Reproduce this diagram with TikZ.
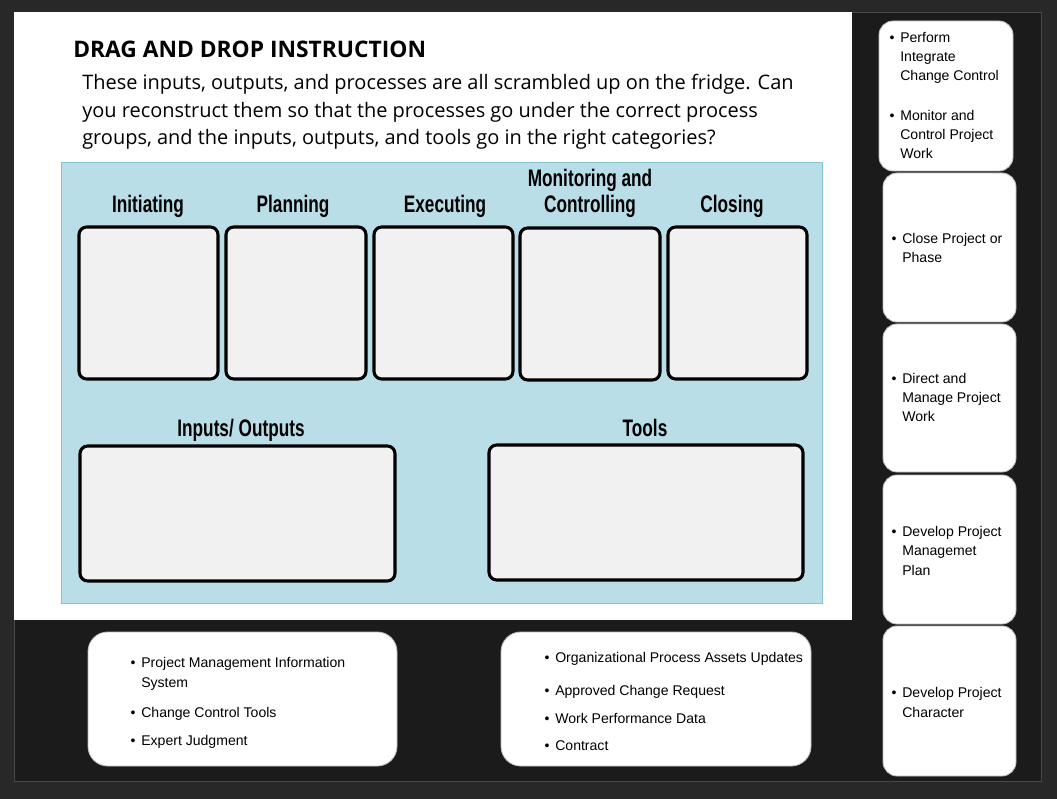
\documentclass[tikz,border=0pt]{standalone}
\usepackage{fontspec}
\setmainfont{Open Sans}
\newfontfamily\cardfont{Liberation Sans}
\newfontfamily\headfont[FakeStretch=0.72]{Liberation Sans}
\usetikzlibrary{fit,positioning}

\definecolor{outerbg}{HTML}{282828}
\definecolor{panelbg}{HTML}{1B1B1B}
\definecolor{panelline}{HTML}{4A4A4A}
\definecolor{fridge}{HTML}{B9DEE7}
\definecolor{fridgeline}{HTML}{86C3CF}
\definecolor{slotgray}{HTML}{F1F1F1}
\definecolor{cardline}{HTML}{BDBDBD}

\begin{document}
\begin{tikzpicture}[x=0.025cm, y=-0.025cm,
  slot/.style={draw=black, line width=2.2pt, rounded corners=5.5pt, fill=slotgray, inner sep=0pt},
  card/.style={draw=cardline, line width=0.6pt, rounded corners=10pt, fill=white, inner sep=0pt},
  head/.style={font=\headfont\bfseries\fontsize{17}{18.5}\selectfont, anchor=base, align=center, inner sep=0pt},
  item/.style={font=\cardfont\fontsize{10}{13.8}\selectfont, anchor=base west, align=left, inner sep=0pt}
]
  \useasboundingbox (0,0) rectangle (1057,799);
  \fill[outerbg] (0,0) rectangle (1057,799);
  \node[fit={(14,12) (1041,781)}, inner sep=0pt, fill=panelbg, draw=panelline, line width=0.6pt] (panel) {};
  \node[fit={(14,12) (852,620)}, inner sep=0pt, fill=white] (slide) {};

  \node[anchor=base west, inner sep=0pt, font=\bfseries\fontsize{16.2}{20}\selectfont] (title) at (73,58) {DRAG AND DROP INSTRUCTION};
  % multi-line nodes sit on the baseline of their last line
  \node[anchor=base west, inner sep=0pt, align=left, font=\fontsize{14.2}{19.56}\selectfont] (instr) at (82,145)
    {These inputs, outputs, and processes are all scrambled up on the fridge. Can\\
     you reconstruct them so that the processes go under the correct process\\
     groups, and the inputs, outputs, and tools go in the right categories?};

  \node[fit={(61,162) (822,603)}, inner sep=0pt, fill=fridge, draw=fridgeline, line width=0.6pt] (fridge) {};

  % process groups
  \node[slot, fit={(79,227) (218,379)}] (init) {};
  \node[slot, fit={(226,227) (366,379)}] (plan) {};
  \node[slot, fit={(374,227) (513,379)}] (exec) {};
  \node[slot, fit={(520,228) (660,380)}] (moni) {};
  \node[slot, fit={(668,227) (807,379)}] (clos) {};
  \node[head] (initlbl) at (148,213) {Initiating};
  \node[head] (planlbl) at (293,213) {Planning};
  \node[head] (execlbl) at (445,213) {Executing};
  \node[head] (monilbl) at (590,213) {Monitoring and\\Controlling};
  \node[head] (closlbl) at (732,213) {Closing};

  % categories
  \node[slot, fit={(80,446) (395,581)}] (io) {};
  \node[slot, fit={(489,445) (803,580)}] (tools) {};
  \node[head] (iolbl) at (241,436) {Inputs/ Outputs};
  \node[head] (toolslbl) at (645,436) {Tools};

  % loose magnets
  \node[card, rounded corners=14pt, fit={(88,632) (397,766)}] (cardtools) {};
  \node[item] (pmis) at (141,687) {\llap{\textbullet\hspace{4pt}}Project Management Information\\System};
  \node[item] (cct) at (141,717) {\llap{\textbullet\hspace{4pt}}Change Control Tools};
  \node[item] (expj) at (141,745) {\llap{\textbullet\hspace{4pt}}Expert Judgment};

  \node[card, rounded corners=14pt, fit={(501,632) (811,766)}] (cardio) {};
  \node[item] (opau) at (555,662) {\llap{\textbullet\hspace{4pt}}Organizational Process Assets Updates};
  \node[item] (acr) at (555,695) {\llap{\textbullet\hspace{4pt}}Approved Change Request};
  \node[item] (wpd) at (555,723) {\llap{\textbullet\hspace{4pt}}Work Performance Data};
  \node[item] (contr) at (555,750) {\llap{\textbullet\hspace{4pt}}Contract};

  \node[card, fit={(879,21) (1013,171)}] (carda) {};
  \node[item] (picc) at (900,81) {\llap{\textbullet\hspace{4pt}}Perform\\Integrate\\Change Control};
  \node[item] (mcpw) at (900,159) {\llap{\textbullet\hspace{4pt}}Monitor and\\Control Project\\Work};

  \node[card, fit={(883,173) (1016,322)}] (cardb) {};
  \node[item] (cpp) at (902,263) {\llap{\textbullet\hspace{4pt}}Close Project or\\Phase};

  \node[card, fit={(883,324) (1016,472)}] (cardc) {};
  \node[item] (dmpw) at (902,422) {\llap{\textbullet\hspace{4pt}}Direct and\\Manage Project\\Work};

  \node[card, fit={(883,475) (1016,624)}] (cardd) {};
  \node[item] (dpmp) at (902,575) {\llap{\textbullet\hspace{4pt}}Develop Project\\Managemet\\Plan};

  \node[card, fit={(883,626) (1016,776)}] (carde) {};
  \node[item] (dpc) at (902,717) {\llap{\textbullet\hspace{4pt}}Develop Project\\Character};
\end{tikzpicture}
\end{document}
